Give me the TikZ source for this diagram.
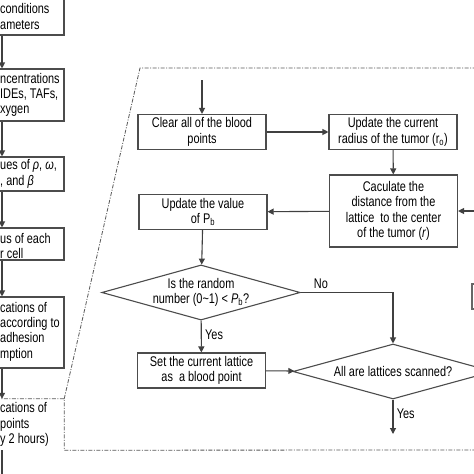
\documentclass[tikz,border=0pt]{standalone}
\usepackage{fontspec}
\setmainfont[FakeStretch=0.78]{Liberation Sans}
\usetikzlibrary{arrows.meta,shapes.geometric}

\begin{document}
\begin{tikzpicture}[x=1pt,y=1pt,
    font=\fontsize{14pt}{15.3pt}\selectfont,
    box/.style={draw=black!70,line width=1.1pt,minimum width=128pt,minimum height=35pt,align=center,inner sep=2pt},
    sidebox/.style={draw=black!70,line width=1.1pt,minimum width=124pt},
    sidetext/.style={anchor=west,align=left,inner sep=0pt},
    decide/.style={draw=black!70,line width=1.1pt,diamond,shape aspect=3.6,inner sep=0pt,align=center},
    flow/.style={draw=black!75,line width=1.1pt,-{Triangle[length=6pt,width=6pt]}},
    plain/.style={draw=black!75,line width=1.1pt},
    zoomline/.style={draw=black!65,line width=0.8pt,dash pattern=on 4pt off 1.5pt on 1pt off 1.5pt}]
    \useasboundingbox (0,0) rectangle (474,-474) ;
    \fill [white] (0,0) rectangle (474,-474) ;
    \clip (0,0) rectangle (474,-474) ;

    \node (init) [sidebox,minimum height=38pt] at (2,-16) {} ;
    \node (initt) [sidetext] at (0,-16.5) {conditions\\ameters} ;
    \node (conc) [sidebox,minimum height=52pt] at (2,-95) {} ;
    \node (conct) [sidetext] at (0,-95) {ncentrations\\IDEs, TAFs,\\xygen} ;
    \node (param) [sidebox,minimum height=34pt] at (2,-174) {} ;
    \node (paramt) [sidetext] at (0,-174) {ues of \textit{ρ}, \textit{ω},\\, and \textit{β}} ;
    \node (status) [sidebox,minimum height=32pt] at (2,-244) {} ;
    \node (statust) [sidetext] at (0,-246) {us of each\\r cell} ;
    \node (loc) [sidebox,minimum height=71pt] at (2,-332.5) {} ;
    \node (loct) [sidetext] at (0,-331.5) {cations of\\according to\\adhesion\\mption} ;
    \node (blood) [minimum width=124pt,minimum height=51pt] at (2,-424.5) {} ;
    \node (bloodt) [sidetext] at (0,-424.5) {cations of\\points\\y 2 hours)} ;
    \coordinate (out) at (2,-480) ;

    \draw [flow] (init) -- (conc) ;
    \draw [flow] (conc) -- (param) ;
    \draw [flow] (param) -- (status) ;
    \draw [flow] (status) -- (loc) ;
    \draw [flow] (loc) -- (blood) ;
    \draw [plain] (blood) -- (out) ;

    \draw [zoomline] (blood.north west) -- (blood.north east) -- (blood.south east) -- (480,-450) ;
    \draw [zoomline] (blood.north east) -- (140,-68) -- (480,-68) ;

    \node (clear) [box] at (202,-132) {Clear all of the blood\\points} ;
    \node (radius) [box] at (393,-132) {Update the current\\radius of the tumor (r\textsubscript{o})} ;
    \node (calc) [box,minimum height=72pt] at (393.5,-211) {Caculate the\\distance from the\\lattice\ \ to the center\\of the tumor (\textit{r})} ;
    \node (pb) [box] at (203,-212) {Update the value\\of P\textsubscript{b}} ;
    \node (rand) [decide,minimum width=196pt,minimum height=55pt] at (201,-292.5) {Is the random\\number (0\textasciitilde1) < \textit{P}\textsubscript{b}?} ;
    \node (setp) [box] at (201.5,-370.5) {Set the current lattice\\as\ \ a blood point} ;
    \node (scan) [decide,minimum width=200pt,minimum height=55pt] at (393,-371.5) {All are lattices scanned?} ;
    \node (side) [draw=black!60,line width=2pt,minimum width=30pt,minimum height=25pt,anchor=north west] at (471,-283) {} ;
    \coordinate (in) at (202,-80) ;
    \coordinate (back) at (480,-211) ;
    \coordinate (done) at (393,-434) ;

    \draw [flow] (in) -- (clear) ;
    \draw [flow] (clear) -- (radius) ;
    \draw [flow] (radius) -- (calc) ;
    \draw [flow] (back) -- (calc) ;
    \draw [flow] (calc) -- (pb) ;
    \draw [flow] (pb) -- (rand) ;
    \draw [flow] (rand) -- node (yes1) [right,pos=0.45] {Yes} (setp) ;
    \draw [flow] (rand.east) -| node (no) [above right,pos=0.05] {No} (scan.north) ;
    \draw [flow] (setp) -- (scan) ;
    \draw [flow] (scan) -- node (yes2) [right,pos=0.4] {Yes} (done) ;
\end{tikzpicture}
\end{document}
